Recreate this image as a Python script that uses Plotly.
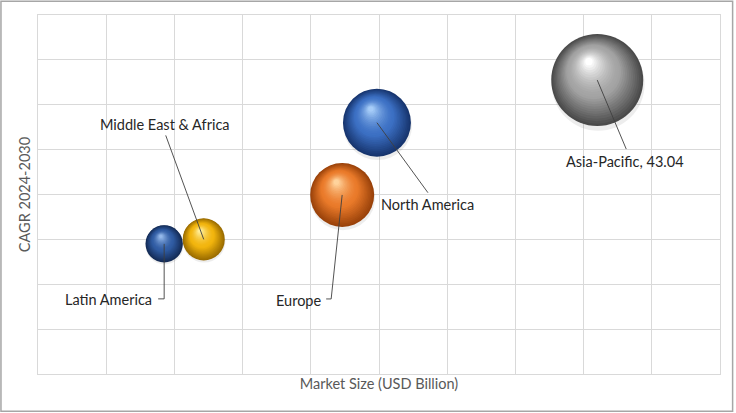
import plotly.graph_objects as go

# ---- data ----
regions = ["Latin America", "Middle East & Africa", "Europe", "North America", "Asia-Pacific"]
market_size = [1.85, 2.43, 4.46, 4.97, 8.20]       # x (gridline units)
cagr = [2.90, 3.00, 3.99, 5.60, 6.55]               # y (gridline units)
bubble_value = [7.1, 9.0, 20.8, 23.5, 43.04]        # bubble size
labels = ["Latin America", "Middle East & Africa", "Europe", "North America", "Asia-Pacific, 43.04"]

dark_colors = ["#142B55", "#9A6C00", "#9A420A", "#17356E", "#4A4A4A"]
mid_colors = ["#305CA3", "#F2B50E", "#EA7A2A", "#3C70C4", "#A3A3A3"]
light_colors = ["#94B8EA", "#FFEE9A", "#FFD39C", "#A6CCF8", "#FFFFFF"]

# label placement (screen pixels relative to bubble centre; +y is down)
label_dx = [-56, -38.5, -44, 51, 28]
label_dy = [56, -115, 105.5, 82, 81.5]
leader_pts = [
    [(0, 0), (0, 55), (-6, 55)],
    [(0, 0), (-38, -104)],
    [(0, 0), (-11, 104), (-16, 104)],
    [(0, 0), (51, 70)],
    [(0, 0), (29, 69)],
]

X_RANGE = [0, 10]
Y_RANGE = [0, 8]
PLOT_W, PLOT_H = 682, 359
max_diam = 92
sizeref = max(bubble_value) / max_diam ** 2
FONT = "Lato, Noto Sans, sans-serif"


def diam(v):
    return (v / sizeref) ** 0.5


def hex2rgb(h):
    h = h.lstrip("#")
    return [int(h[i:i + 2], 16) for i in (0, 2, 4)]


def lerp(c1, c2, t):
    a, b = hex2rgb(c1), hex2rgb(c2)
    return "rgb(%d,%d,%d)" % tuple(round(a[i] + (b[i] - a[i]) * t) for i in range(3))


def shade(i, t):
    if t < 0.45:
        return lerp(dark_colors[i], mid_colors[i], t / 0.45)
    return lerp(mid_colors[i], light_colors[i], ((t - 0.45) / 0.55) ** 1.6)


fig = go.Figure()

# soft shadow
fig.add_trace(go.Scatter(
    x=[x + 0.01 * diam(v) * 10 / PLOT_W for x, v in zip(market_size, bubble_value)],
    y=[y - 0.045 * diam(v) * 8 / PLOT_H for y, v in zip(cagr, bubble_value)],
    mode="markers",
    marker=dict(size=[diam(v) * 1.01 for v in bubble_value], color="rgba(0,0,0,0.10)", line=dict(width=0)),
    hoverinfo="skip", showlegend=False))

N = 26
for k in range(N):
    t = k / (N - 1)
    xs, ys, ss, cs = [], [], [], []
    for i, (x, y, v) in enumerate(zip(market_size, cagr, bubble_value)):
        d = diam(v)
        xs.append(x - 0.09 * d * t * (X_RANGE[1] - X_RANGE[0]) / PLOT_W)
        ys.append(y + 0.2 * d * t * (Y_RANGE[1] - Y_RANGE[0]) / PLOT_H)
        ss.append(d * (1 - 0.92 * t))
        cs.append(shade(i, t))
    fig.add_trace(go.Scatter(
        x=xs, y=ys, mode="markers", text=regions,
        marker=dict(size=ss, color=cs, line=dict(width=0), opacity=1),
        hoverinfo="skip" if k else "text", showlegend=False))

for x, y, lab, dx, dy, pts in zip(market_size, cagr, labels, label_dx, label_dy, leader_pts):
    path = "M " + " L ".join("%g %g" % (px, -py) for px, py in pts)
    fig.add_shape(type="path", path=path, xref="x", yref="y", xsizemode="pixel", ysizemode="pixel",
                  xanchor=x, yanchor=y, line=dict(color="#404040", width=0.9))
    fig.add_annotation(x=x, y=y, text=lab, showarrow=False, xshift=dx, yshift=-dy,
                       font=dict(family=FONT, size=14.5, color="#262626"))

grid = "#D9D9D9"
fig.update_xaxes(range=X_RANGE, dtick=1, showgrid=True, gridcolor=grid, gridwidth=1,
                 showticklabels=False, zeroline=False, showline=True, linecolor=grid, mirror=True,
                 ticks="",
                 title=dict(text="Market Size (USD Billion)", standoff=4,
                            font=dict(family=FONT, size=14.5, color="#595959")))
fig.update_yaxes(range=Y_RANGE, dtick=1, showgrid=True, gridcolor=grid, gridwidth=1,
                 showticklabels=False, zeroline=False, showline=True, linecolor=grid, mirror=True,
                 ticks="",
                 title=dict(text="CAGR 2024-2030", standoff=2,
                            font=dict(family=FONT, size=14.5, color="#595959")))

fig.add_shape(type="rect", xref="paper", yref="paper", x0=-0.0543, x1=1.0185, y0=-0.104, y1=1.038,
              line=dict(color="#A6A6A6", width=1.5), fillcolor="rgba(0,0,0,0)", layer="below")

fig.update_layout(width=736, height=413, margin=dict(l=38, r=16, t=15, b=39),
                  paper_bgcolor="white", plot_bgcolor="white", showlegend=False)

fig.write_html("out.html", config={"displayModeBar": False},
               post_script="document.body.style.margin='0';document.body.style.padding='0';")
